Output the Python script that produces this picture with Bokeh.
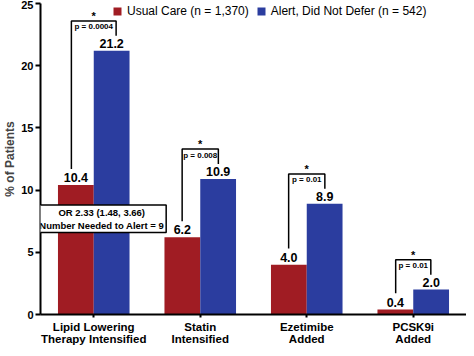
from bokeh.plotting import figure
from bokeh.models import FactorRange, Legend, LegendItem, Label, ColumnDataSource
from bokeh.transform import dodge
from bokeh.core.properties import value
from bokeh.embed import file_html
from bokeh.resources import INLINE

# ---- data ----
categories = ["Lipid Lowering\nTherapy Intensified", "Statin\nIntensified",
              "Ezetimibe\nAdded", "PCSK9i\nAdded"]
usual_care = [10.4, 6.2, 4.0, 0.4]
alert_did_not_defer = [21.2, 10.9, 8.9, 2.0]
p_values = ["p = 0.0004", "p = 0.008", "p = 0.01", "p = 0.01"]
series_names = ["Usual Care (n = 1,370)", "Alert, Did Not Defer (n = 542)"]
y_ticks = [0, 5, 10, 15, 20, 25]
or_lines = ["OR 2.33 (1.48, 3.66)", "Number Needed to Alert = 9"]
or_y = 7.7

# ---- style ----
RED = "#a01c23"
BLUE = "#2b3d9f"
FONT = "Liberation Sans"
BAR_W = 0.336
D = BAR_W / 2
bracket_half = [0.21, 0.17, 0.17, 0.165]

p = figure(x_range=FactorRange(*categories), y_range=(0, 25),
           width=466, height=348, output_backend="svg", toolbar_location=None,
           min_border_top=3, min_border_left=0, min_border_right=0, min_border_bottom=0)
p.outline_line_color = None
p.xgrid.visible = False
p.ygrid.visible = False
p.background_fill_color = "white"

src = ColumnDataSource(dict(
    cat=categories, uc=usual_care, al=alert_did_not_defer,
    uc_lbl=[f"{v:.1f}" for v in usual_care],
    al_lbl=[f"{v:.1f}" for v in alert_did_not_defer],
))

r1 = p.vbar(x=dodge("cat", -D, range=p.x_range), top="uc", width=BAR_W, source=src,
            fill_color=RED, line_color=None)
r2 = p.vbar(x=dodge("cat", D, range=p.x_range), top="al", width=BAR_W, source=src,
            fill_color=BLUE, line_color=None)

lbl_kw = dict(text_align="center", text_baseline="middle", y_offset=-7.5,
              text_font=value(FONT), text_font_style="bold", text_font_size="12.5px",
              text_color="black")
p.text(x=dodge("cat", -D, range=p.x_range), y="uc", text="uc_lbl", source=src, **lbl_kw)
p.text(x=dodge("cat", D, range=p.x_range), y="al", text="al_lbl", source=src, **lbl_kw)

# significance brackets (x in synthetic category coordinates: centre of factor i = i + 0.5)
xs, ys, tx, ty, tt = [], [], [], [], []
for i, (u, a, pv) in enumerate(zip(usual_care, alert_did_not_defer, p_values)):
    c = i + 0.5
    hw = bracket_half[i]
    top = max(u, a) + 2.4
    xs.append([c - hw, c - hw, c + hw, c + hw])
    ys.append([u + 1.3, top, top, a + 1.2])
    tx.append(c)
    ty.append(top)
    tt.append(pv)
p.multi_line(xs=xs, ys=ys, line_color="black", line_width=1.5)
p.text(x=tx, y=ty, text=tt, text_align="center", text_baseline="middle", y_offset=6,
       text_font=value(FONT), text_font_style="bold", text_font_size="8px", text_color="black")
p.text(x=tx, y=ty, text=["*"] * len(tx), text_align="center", text_baseline="middle",
       y_offset=-5, text_font=value(FONT), text_font_style="bold", text_font_size="11px",
       text_color="black")

# OR annotation box (kept inside the plot frame)
or_label = Label(x=categories.index(categories[0]) + 0.5, y=or_y, x_offset=8,
                 text="\n".join(or_lines),
                 text_align="center", text_baseline="middle", text_font=FONT,
                 text_font_style="bold", text_font_size="9.5px", text_color="black",
                 text_line_height=1.15, background_fill_color="white",
                 border_line_color="black", border_line_width=1.5, padding=2)
p.add_layout(or_label)

# axes
for ax in (p.xaxis[0], p.yaxis[0]):
    ax.axis_line_width = 2
    ax.axis_line_color = "black"
    ax.major_tick_line_width = 2
    ax.major_tick_line_color = "black"
    ax.major_tick_in = 0
    ax.minor_tick_line_color = None
    ax.major_label_text_font = FONT
    ax.major_label_text_font_style = "bold"
    ax.major_label_text_color = "black"
p.xaxis.axis_label = None
p.xaxis.axis_label_standoff = 0
p.xaxis.major_tick_out = 3
p.xaxis.major_label_text_font_size = "11.5px"
p.xaxis.major_label_text_line_height = 1.05
p.xaxis.major_label_standoff = 3
p.yaxis.ticker = y_ticks
p.yaxis.major_tick_out = 5
p.yaxis.major_label_text_font_size = "11px"
p.yaxis.major_label_standoff = 2
p.yaxis.axis_label = "% of Patients"
p.yaxis.axis_label_text_font = FONT
p.yaxis.axis_label_text_font_style = "bold"
p.yaxis.axis_label_text_font_size = "12px"
p.yaxis.axis_label_standoff = 1

legend = Legend(items=[LegendItem(label=series_names[0], renderers=[r1]),
                       LegendItem(label=series_names[1], renderers=[r2])],
                orientation="horizontal", location=(72, 296), margin=0, padding=0,
                spacing=7, label_standoff=5, glyph_width=10, glyph_height=10,
                label_text_font=FONT, label_text_font_size="12px",
                label_text_color="black", border_line_color=None,
                background_fill_alpha=0)
p.add_layout(legend)

open("out.html", "w").write(file_html(p, INLINE))
